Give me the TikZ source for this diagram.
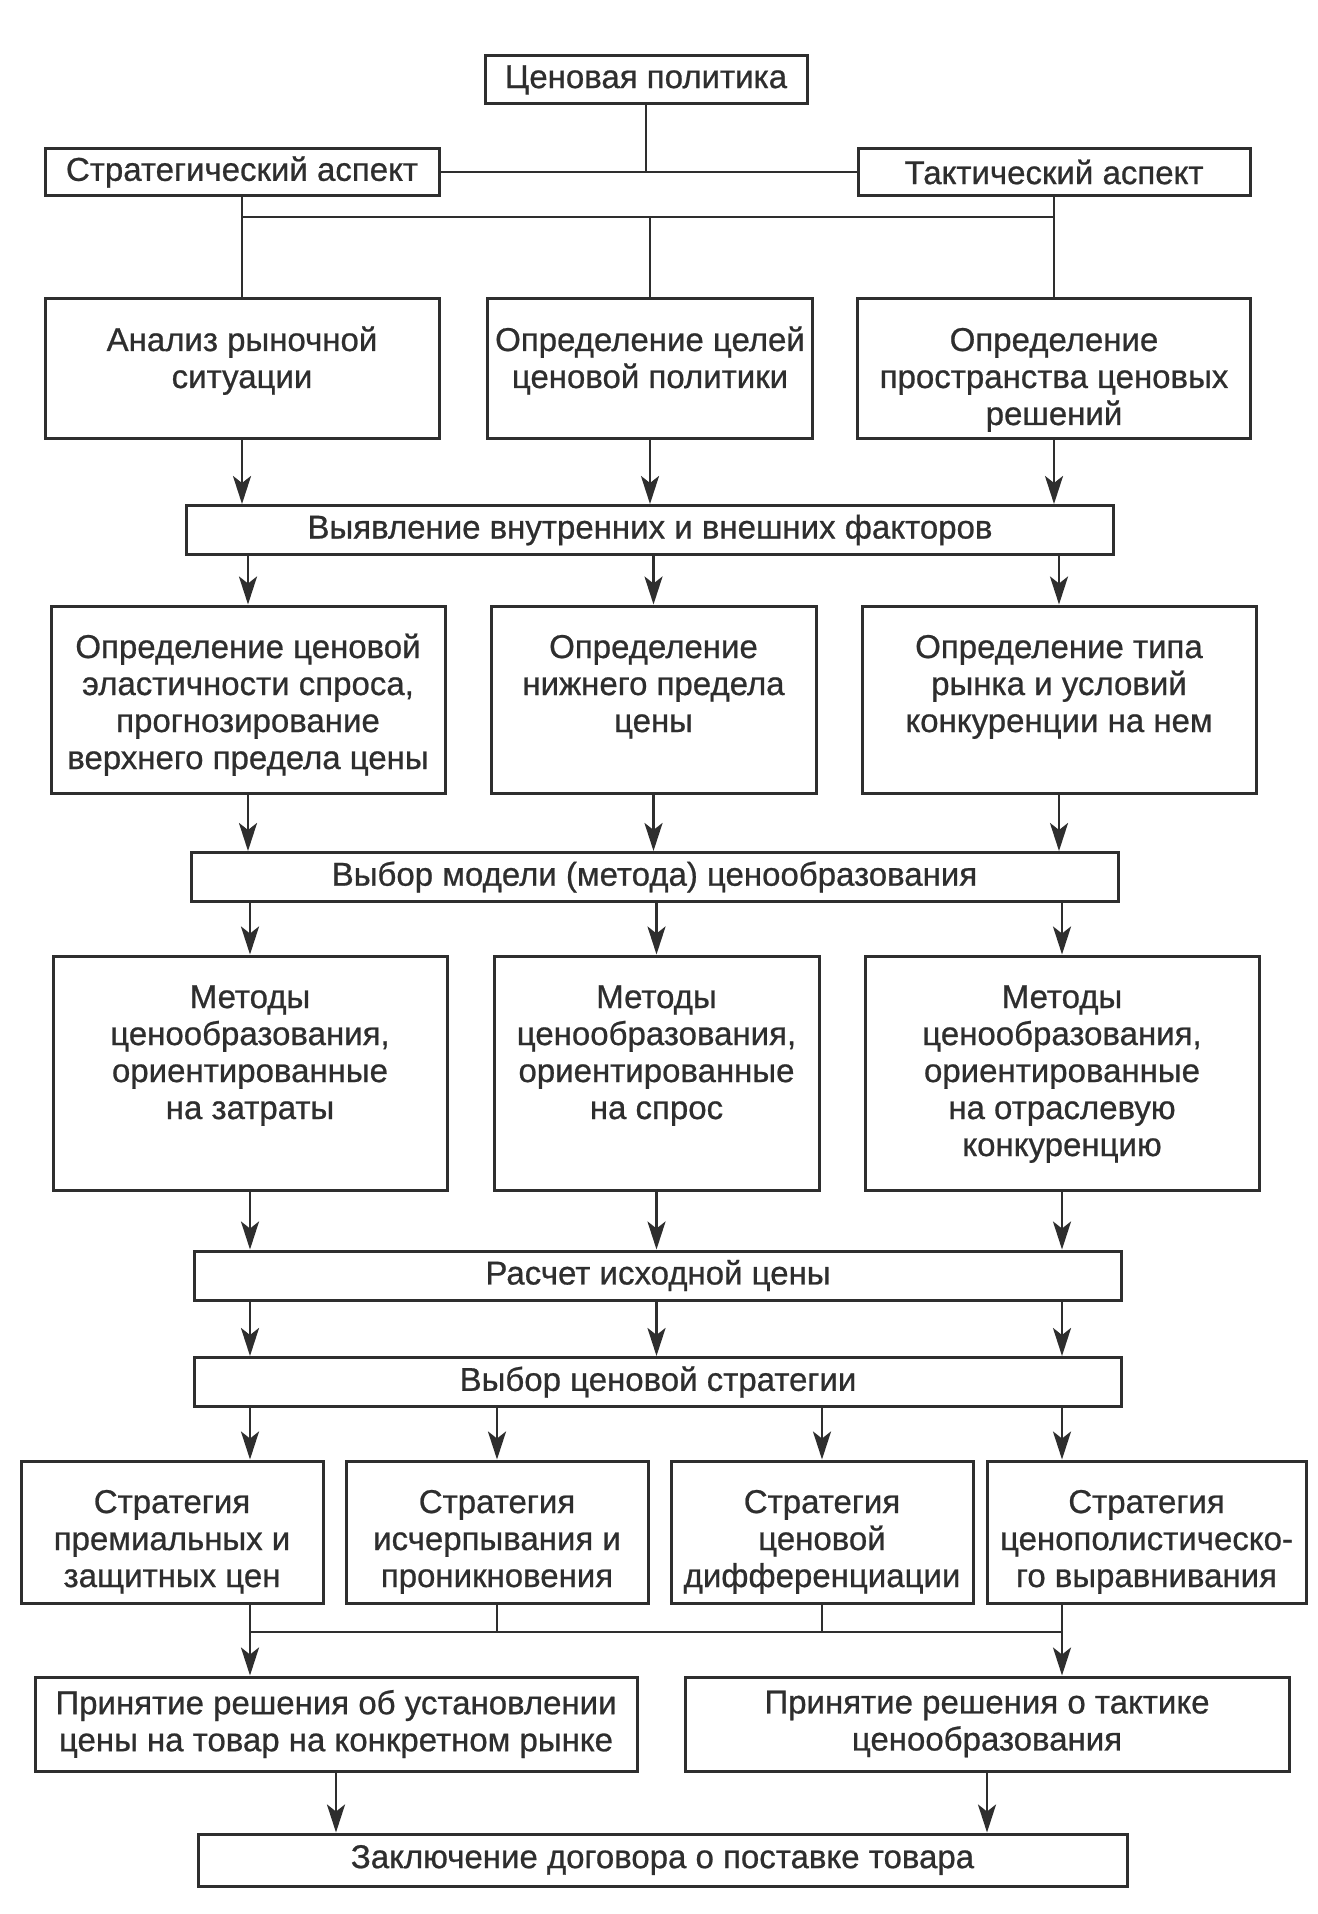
\documentclass[tikz,border=0pt]{standalone}
\usepackage{fontspec}
\setmainfont{Liberation Sans}[FakeBold=0.7]
\usetikzlibrary{arrows.meta}
\definecolor{ink}{gray}{0.18}
% text that starts at the top of a tall box
\newcommand{\toptxt}[3]{\parbox[c][#2][t]{#1}{\centering\rule{0pt}{26pt}#3}}
\tikzset{
  frame/.style={draw, line width=1.5pt, inner sep=0pt},
  wide/.style={frame, minimum width=463.5pt, minimum height=24.5pt},
  arr/.style={-{Stealth[length=14pt,width=9pt,inset=3.5pt]}},
}

\begin{document}
\begin{tikzpicture}[x=0.5pt, y=-0.5pt, color=ink, line width=1.4pt,
    every node/.style={font=\fontsize{16.5}{18.5}\selectfont}]
  \fill[white] (0,0) rectangle (1317,1914);
  \useasboundingbox (0,0) rectangle (1317,1914);

  % top
  \node[frame, minimum width=161pt, minimum height=24pt] (price) at (646,80) {Ценовая политика};
  \node[frame, minimum width=197pt, minimum height=23.5pt] (strat) at (242,172) {Стратегический аспект};
  \node[frame, minimum width=196pt, minimum height=23.5pt] (tact) at (1054,172) {Тактический аспект};
  \coordinate (bus1) at (650,217);

  % rows of tall boxes
  \node[frame] (a1) at (242,369) {\toptxt{197pt}{70pt}{Анализ рыночной\\ситуации}};
  \node[frame] (a2) at (650,369) {\toptxt{162.5pt}{70pt}{Определение целей\\ценовой политики}};
  \node[frame] (a3) at (1054,369) {\toptxt{196.5pt}{70pt}{Определение\\пространства ценовых\\решений}};
  \node[wide] (detect) at (650,530) {Выявление внутренних и внешних факторов};

  \node[frame] (b1) at (248,699.5) {\toptxt{197pt}{93.5pt}{Определение ценовой\\эластичности спроса,\\прогнозирование\\верхнего предела цены}};
  \node[frame] (b2) at (653.5,699.5) {\toptxt{162.5pt}{93.5pt}{Определение\\нижнего предела\\цены}};
  \node[frame] (b3) at (1059,699.5) {\toptxt{197pt}{93.5pt}{Определение типа\\рынка и условий\\конкуренции на нем}};
  \node[wide] (model) at (654.5,877) {Выбор модели (метода) ценообразования};

  \node[frame] (c1) at (250,1073) {\toptxt{197pt}{117pt}{Методы\\ценообразования,\\ориентированные\\на затраты}};
  \node[frame] (c2) at (656.5,1073) {\toptxt{162.5pt}{117pt}{Методы\\ценообразования,\\ориентированные\\на спрос}};
  \node[frame] (c3) at (1062,1073) {\toptxt{197pt}{117pt}{Методы\\ценообразования,\\ориентированные\\на отраслевую\\конкуренцию}};
  \node[wide] (calc) at (658,1275.5) {Расчет исходной цены};
  \node[wide] (choice) at (658,1382) {Выбор ценовой стратегии};

  \node[frame] (d1) at (172,1532) {\toptxt{151pt}{71pt}{Стратегия\\премиальных и\\защитных цен}};
  \node[frame] (d2) at (497,1532) {\toptxt{151pt}{71pt}{Стратегия\\исчерпывания и\\проникновения}};
  \node[frame] (d3) at (822,1532) {\toptxt{151pt}{71pt}{Стратегия\\ценовой\\дифференциации}};
  \node[frame] (d4) at (1146.5,1532) {\toptxt{159.5pt}{71pt}{Стратегия\\ценополистическо-\\го выравнивания}};
  \coordinate (bus4) at (658,1632);

  \node[frame, minimum width=301pt, minimum height=47pt, align=center] (e1) at (336,1724)
    {Принятие решения об установлении\\цены на товар на конкретном рынке};
  \node[frame, minimum width=302pt, minimum height=47pt, align=center] (e2) at (987,1724)
    {Принятие решения о тактике\\ценообразования};
  \node[frame, minimum width=464.5pt, minimum height=26pt] (final) at (662.5,1860)
    {Заключение договора о поставке товара};

  % connectors
  \draw (price) -- (price |- strat.east);
  \draw (strat) -- (tact);
  \draw (strat) -- (a1);
  \draw (tact) -- (a3);
  \draw (strat |- bus1) -- (tact |- bus1);
  \draw (bus1) -- (a2);

  \foreach \n in {a1,a2,a3}
    \draw[arr] (\n) -- (\n |- detect.north);
  \foreach \n in {b1,b2,b3}{
    \draw[arr] (\n |- detect.south) -- (\n);
    \draw[arr] (\n) -- (\n |- model.north);
  }
  \foreach \n in {c1,c2,c3}{
    \draw[arr] (\n |- model.south) -- (\n);
    \draw[arr] (\n) -- (\n |- calc.north);
    \draw[arr] (\n |- calc.south) -- (\n |- choice.north);
  }

  \draw[arr] (c1 |- choice.south) -- (c1 |- d1.north);
  \draw[arr] (d2 |- choice.south) -- (d2);
  \draw[arr] (d3 |- choice.south) -- (d3);
  \draw[arr] (c3 |- choice.south) -- (c3 |- d4.north);

  \draw (c1 |- bus4) -- (c3 |- bus4);
  \draw (d2) -- (d2 |- bus4);
  \draw (d3) -- (d3 |- bus4);
  \draw[arr] (c1 |- d1.south) -- (c1 |- e1.north);
  \draw[arr] (c3 |- d4.south) -- (c3 |- e2.north);

  \draw[arr] (e1) -- (e1 |- final.north);
  \draw[arr] (e2) -- (e2 |- final.north);
\end{tikzpicture}
\end{document}
